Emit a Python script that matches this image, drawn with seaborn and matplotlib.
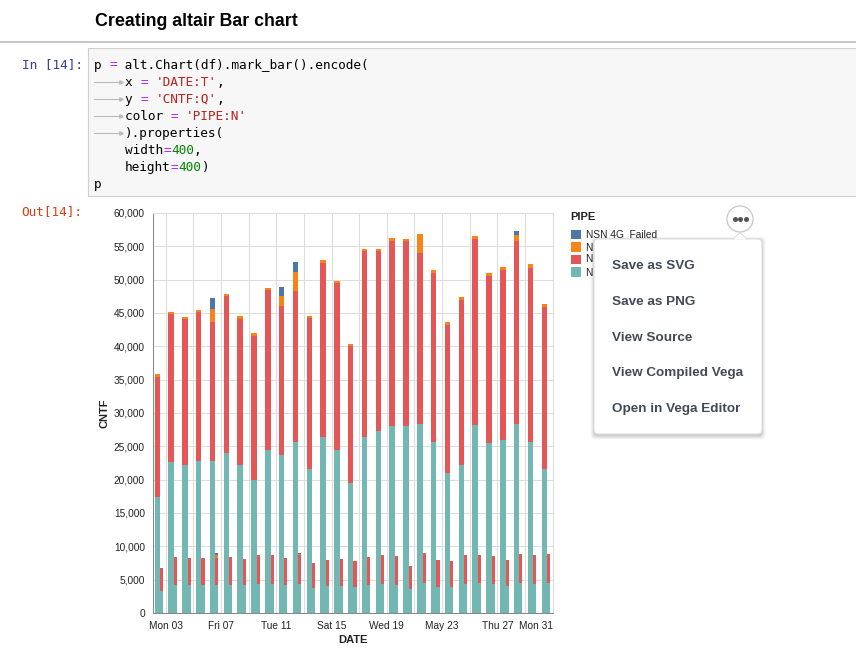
import numpy as np
import pandas as pd
import matplotlib
matplotlib.use("Agg")
import matplotlib.pyplot as plt
import matplotlib.dates as mdates
from matplotlib.patches import Rectangle, FancyBboxPatch, Circle, Polygon
from matplotlib.lines import Line2D
from matplotlib.transforms import Affine2D, Bbox, TransformedBbox
from matplotlib.ticker import FixedLocator, FixedFormatter, FuncFormatter
import seaborn as sns

# ---------------- data ----------------
days = pd.date_range("2021-05-02", "2021-05-30", freq="D")
pipes = ["NSN 4G_Failed", "NSN 4G_Partial", "NSN 4G_Retry", "NSN 4G_Success"]
run_times = ["09:00", "16:30"]

am_success = [17400, 22600, 22250, 22750, 22850, 24000, 22150, 20000, 24400, 23750,
              25600, 21650, 26400, 24450, 19450, 26350, 27300, 28100, 28100, 28350,
              25650, 20950, 22200, 28250, 25500, 25950, 28350, 25650, 21650]
am_retry = [17950, 22200, 21850, 22400, 20850, 23500, 21950, 21600, 24000, 22250,
            22650, 22600, 26100, 25050, 20550, 27900, 26950, 27650, 27650, 25650,
            25350, 22300, 24800, 27850, 25100, 25550, 27400, 26100, 24200]
am_partial = [500, 400, 350, 350, 1900, 300, 400, 350, 350, 1500,
              2850, 350, 400, 350, 400, 400, 350, 500, 400, 2800,
              400, 400, 350, 500, 400, 400, 1000, 600, 500]
am_failed = [0, 0, 0, 0, 1650, 0, 0, 0, 0, 1350,
             1550, 0, 0, 0, 0, 0, 0, 0, 0, 0,
             0, 0, 0, 0, 0, 0, 550, 0, 0]

pm_success = [3350, 4250, 4150, 4150, 4250, 4250, 4150, 4350, 4400, 4150,
              4400, 3750, 4100, 4100, 3900, 4250, 4400, 4150, 3600, 4450,
              3950, 3950, 4400, 4450, 4350, 4000, 4450, 4400, 4450]
pm_retry = [3400, 4150, 4100, 4100, 4050, 4100, 4000, 4400, 4250, 4100,
            4350, 3750, 3900, 4000, 3850, 4150, 4300, 4450, 3400, 4550,
            4050, 3900, 4300, 4300, 4250, 4000, 4450, 4350, 4350]
pm_partial = [0, 0, 0, 0, 400, 0, 0, 0, 0, 0,
              100, 0, 0, 0, 0, 0, 0, 0, 0, 0,
              0, 0, 0, 0, 0, 0, 0, 0, 0]
pm_failed = [0, 0, 0, 0, 300, 0, 0, 0, 0, 0,
             150, 0, 0, 0, 0, 0, 0, 0, 0, 0,
             0, 0, 0, 0, 0, 0, 0, 0, 0]

y_ticks = list(range(0, 60001, 5000))
x_tick_dates = pd.date_range("2021-05-03", "2021-05-31", freq="2D")
x_tick_labels = ["Mon 03", "", "Fri 07", "", "Tue 11", "", "Sat 15", "",
                 "Wed 19", "", "May 23", "", "Thu 27", "", "Mon 31"]

legend_title = "PIPE"
menu_items = ["Save as SVG", "Save as PNG", "View Source",
              "View Compiled Vega", "Open in Vega Editor"]

# ---------------- table ----------------
runs = {
    run_times[0]: dict(zip(pipes, [am_failed, am_partial, am_retry, am_success])),
    run_times[1]: dict(zip(pipes, [pm_failed, pm_partial, pm_retry, pm_success])),
}
rows = []
for t, series in runs.items():
    for p, vals in series.items():
        for d, v in zip(days, vals):
            rows.append({"DATE": pd.Timestamp(f"{d.date()} {t}"), "PIPE": p, "CNTF": v})
df = pd.DataFrame(rows)
df["x"] = mdates.date2num(df["DATE"])

# ---------------- styling ----------------
sns.set_theme(style="white")
plt.rcParams["font.family"] = ["Liberation Sans", "DejaVu Sans"]

W, H = 856, 663
fig = plt.figure(figsize=(W / 100, H / 100), dpi=100)
fig.patch.set_facecolor("white")
PX = Affine2D().scale(1 / 100, -1 / 100).translate(0, H / 100) + fig.dpi_scale_trans

palette = {pipes[0]: "#4c78a8", pipes[1]: "#f58518", pipes[2]: "#e45756", pipes[3]: "#72b7b2"}

ax = fig.add_axes([152.7 / W, 50 / H, 400 / W, 400 / H])
ax.set_facecolor("white")

day_num = mdates.date2num(days)
edges = [float(e) for e in np.sort(np.concatenate([day_num + 0.19, day_num + 0.585,
                                                    day_num + 0.81]))]

sns.histplot(data=df, x="x", weights="CNTF", hue="PIPE", hue_order=pipes,
             multiple="stack", bins=edges, palette=palette, alpha=1,
             linewidth=0, edgecolor="none", legend=False, ax=ax)

ax.set_xlim(mdates.date2num(pd.Timestamp("2021-05-02 01:25")),
            mdates.date2num(pd.Timestamp("2021-05-31")))
ax.set_ylim(0, 60000)
ax.yaxis.set_major_locator(FixedLocator(y_ticks))
ax.yaxis.set_major_formatter(FuncFormatter(lambda v, _: f"{int(v):,}"))
ax.xaxis.set_major_locator(FixedLocator(mdates.date2num(x_tick_dates)))
ax.xaxis.set_major_formatter(FixedFormatter(x_tick_labels))
ax.set_xlabel("")
ax.set_ylabel("")
ax.grid(True, color="#dddddd", linewidth=0.75)
ax.set_axisbelow(True)
for s in ["left", "bottom"]:
    ax.spines[s].set_color("#888888")
    ax.spines[s].set_linewidth(0.75)
for s in ["top", "right"]:
    ax.spines[s].set_color("#dddddd")
    ax.spines[s].set_linewidth(0.75)
ax.tick_params(axis="both", which="major", length=3.6, width=0.75, color="#888888",
               labelsize=7.3, labelcolor="#222222", pad=2)
labels = ax.get_xticklabels()
labels[-1].set_horizontalalignment("right")

fig.text(105, 413, "CNTF", transform=PX, rotation=90, ha="center", va="center",
         fontsize=8, weight="bold", color="#222222")
fig.text(352.5, 640, "DATE", transform=PX, ha="center", va="center",
         fontsize=8, weight="bold", color="#222222")

# ---------------- legend (partly hidden by the action menu) ----------------
clip = TransformedBbox(Bbox([[0, 0], [593.5, H]]), PX)
fig.text(570, 217, legend_title, transform=PX, ha="left", va="center",
         fontsize=8, weight="bold", color="#222222", zorder=5)
for i, p in enumerate(pipes):
    yc = 234.3 + 12.5 * i
    fig.add_artist(Rectangle((571, yc - 4.7), 10, 9.4, transform=PX,
                             facecolor=palette[p], edgecolor="none", zorder=5))
    t = fig.text(586, yc, p, transform=PX, ha="left", va="center", fontsize=7.3,
                 color="#222222", zorder=5)
    if i > 0:
        t.set_clip_box(clip)
        t.set_clip_on(True)

# ---------------- notebook chrome ----------------
fig.text(95, 26, "Creating altair Bar chart", transform=PX, ha="left", va="baseline",
         fontsize=12.8, weight="bold", color="#000000")
fig.add_artist(Line2D([0, W], [42.3, 42.3], transform=PX, color="#bdbdbd", lw=1.2))
fig.add_artist(Rectangle((88.3, 48.3), W - 88.3 + 2, 147.4, transform=PX,
                         facecolor="#f7f7f7", edgecolor="#cfcfcf", lw=0.8))

MONO = "DejaVu Sans Mono"
CH = 7.66
X0 = 94.3
K, OP, ST, NUM = "#000000", "#aa22ff", "#ba2121", "#008800"
code_lines = [
    [("p ", K), ("=", OP), (" alt.Chart(df).mark_bar().encode(", K)],
    [("x ", K), ("=", OP), (" ", K), ("'DATE:T'", ST), (",", K)],
    [("y ", K), ("=", OP), (" ", K), ("'CNTF:Q'", ST), (",", K)],
    [("color ", K), ("=", OP), (" ", K), ("'PIPE:N'", ST)],
    [(").properties(", K)],
    [("width", K), ("=", OP), ("400", NUM), (",", K)],
    [("height", K), ("=", OP), ("400", NUM), (")", K)],
    [("p", K)],
]
indents = [0, 4, 4, 4, 4, 4, 4, 0]
tabbed = [False, True, True, True, True, False, False, False]
for i, toks in enumerate(code_lines):
    yc = 65 + 17.1 * i
    col = indents[i]
    for txt, c in toks:
        fig.text(X0 + col * CH, yc, txt, transform=PX, ha="left", va="center",
                 family=MONO, fontsize=9.15, color=c)
        col += len(txt)
    if tabbed[i]:
        fig.add_artist(Line2D([93.5, 120], [yc, yc], transform=PX, color="#bbbbbb", lw=0.8))
        fig.add_artist(Line2D([120.5], [yc], transform=PX, color="#bbbbbb",
                              marker=">", markersize=2.5, lw=0))

fig.text(21.7, 65, "In [14]:", transform=PX, ha="left", va="center",
         family=MONO, fontsize=9.15, color="#303f9f")
fig.text(21.7, 212, "Out[14]:", transform=PX, ha="left", va="center",
         family=MONO, fontsize=9.15, color="#d84315")

# action button
fig.add_artist(Circle((740, 219), 13, transform=PX, facecolor="white",
                      edgecolor="#c8c8c8", lw=0.9, zorder=6))
fig.add_artist(Line2D([734.5, 740, 745.5], [219, 219, 219], transform=PX, lw=0,
                      marker="o", markersize=2.6, color="#555555", zorder=7))

# menu shadow + box
for k, a in [(4, 0.03), (3, 0.04), (2, 0.05), (1, 0.07)]:
    fig.add_artist(FancyBboxPatch((594 - k + 0.5, 239 - k + 1.5), 168 + 2 * k - 1, 195 + 2 * k,
                                  boxstyle="round,pad=0,rounding_size=4", transform=PX,
                                  facecolor="black", edgecolor="none", alpha=a, zorder=8))
fig.add_artist(FancyBboxPatch((594, 239), 168, 195, boxstyle="round,pad=0,rounding_size=4",
                              transform=PX, facecolor="white", edgecolor="#d6d6d6",
                              lw=0.6, zorder=9))
fig.add_artist(Polygon([(733, 239.4), (740, 232.5), (747, 239.4)], closed=False,
                       transform=PX, facecolor="white", edgecolor="#d6d6d6", lw=0.6,
                       zorder=10))
for i, item in enumerate(menu_items):
    fig.text(611.5, 266 + 35.8 * i, item, transform=PX, ha="left", va="center",
             fontsize=9.7, weight="bold", color="#434a56", zorder=11)

fig.savefig("out.png", dpi=100, facecolor="white")
